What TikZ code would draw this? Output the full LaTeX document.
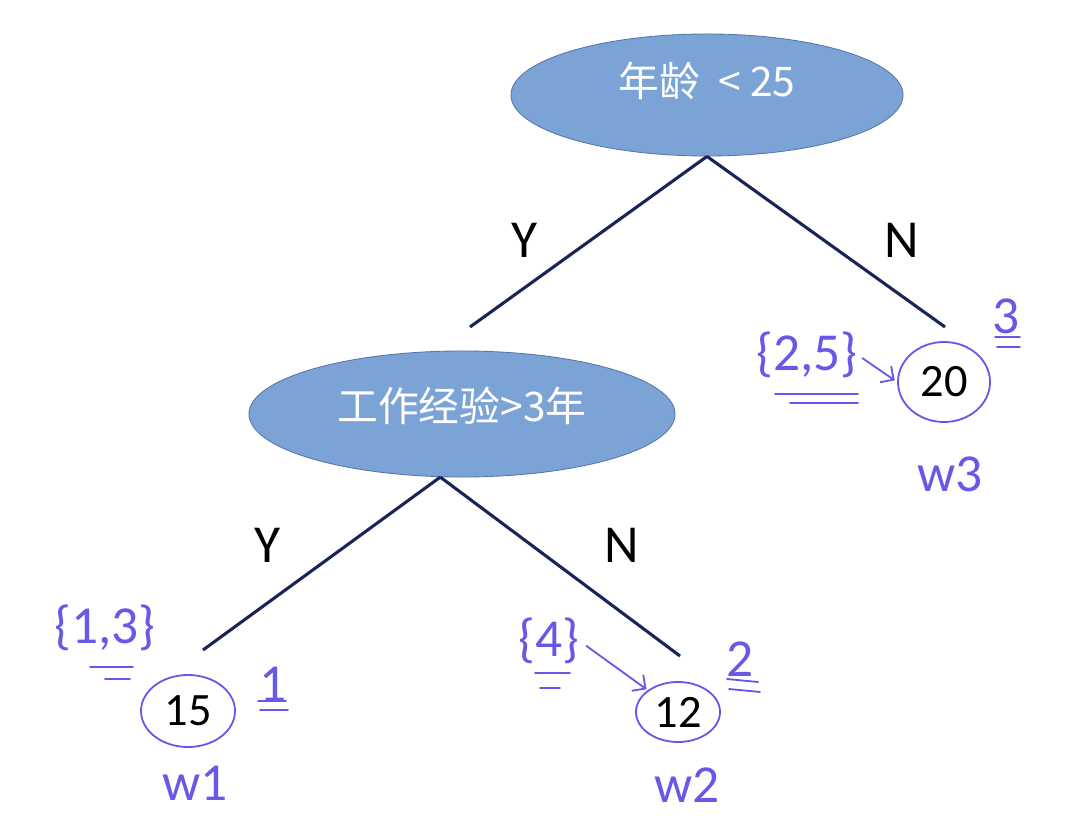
\documentclass[tikz,border=0pt]{standalone}
\usepackage{fontspec}
\setmainfont{Carlito}
\newfontfamily\cjk{Noto Sans CJK SC}
\usetikzlibrary{shapes.geometric,arrows.meta}
\definecolor{bubble}{RGB}{124,163,213}
\definecolor{bubbleline}{RGB}{84,118,168}
\definecolor{branchcol}{RGB}{27,36,89}
\definecolor{pen}{RGB}{104,88,232}
\tikzset{
  test/.style={ellipse, fill=bubble, draw=bubbleline, line width=0.6pt, text=white,
    inner sep=0pt, font=\cjk\fontsize{29}{30}\selectfont},
  edge/.style={draw=branchcol, line width=2.2pt},
  answer/.style={font=\fontsize{38}{40}\selectfont},
  leaf/.style={ellipse, draw=pen, line width=1.3pt, inner sep=0pt, font=\fontsize{33}{34}\selectfont},
  ink/.style={draw=pen, line width=1.3pt, line cap=round},
  note/.style={text=pen, inner sep=0pt, font=\fontsize{38}{40}\selectfont},
  count/.style={text=pen, inner sep=0pt, font=\fontsize{38}{40}\selectfont},
}
\begin{document}
\begin{tikzpicture}[x=0.025cm, y=-0.025cm]
        \useasboundingbox (0,0) rectangle (1080,819);
        % the two tests
        \node[test, minimum width=9.8cm, minimum height=3.05cm] (age) at (707,95)
          {\raisebox{-0.05cm}[0pt][0pt]{年龄\ \ < 25}};
        \node[test, minimum width=10.65cm, minimum height=3.15cm] (exp) at (462,414)
          {\raisebox{-0.2cm}[0pt][0pt]{工作经验>3年}};
        % the leaves
        \node[leaf, minimum width=2.3cm, minimum height=2cm]  (twenty)  at (944,382) {20};
        \node[leaf, minimum width=2.35cm, minimum height=1.8cm] (fifteen) at (188,711) {15};
        \node[leaf, minimum width=2.1cm, minimum height=1.5cm] (twelve)  at (678,712) {12};
        % free ends of the branches
        \coordinate (ageY) at (470,327);
        \coordinate (ageN) at (945,327);
        \coordinate (expY) at (203,650);
        \coordinate (expN) at (680,656);
        % drawing the branches
        \draw[edge] (age.south) -- (ageY);
        \draw[edge] (age.south) -- (ageN);
        \draw[edge] (exp.251)   -- (expY);
        \draw[edge] (exp.251)   -- (expN);
        % labels of the branches
        \node[answer] (ageyes) at (525,240) {Y};
        \node[answer] (ageno)  at (902,240) {N};
        \node[answer] (expyes) at (268,545) {Y};
        \node[answer] (expno)  at (622,545) {N};
        % pen notes
        \node[note] (set25) at (807,355) {\{2,5\}};
        \node[note] (set13) at (105,628) {\{1,3\}};
        \node[note] (set4)  at (549,641) {\{4\}};
        \node[count] (idx3)  at (1006,316) {3};
        \node[count] (idx1)  at (273,684) {1};
        \node[count] (idx2)  at (740,659) {2};
        \node[note] (wthree) at (950,474) {w3};
        \node[note] (wone)   at (195,783) {w1};
        \node[note] (wtwo)   at (687,785) {w2};
        \draw[ink, -{Straight Barb[length=7pt]}, shorten <=4pt, shorten >=2pt] (set25.east) -- (twenty.west);
        \draw[ink, -{Straight Barb[length=7pt]}, shorten <=6pt, shorten >=1pt] (set4.east) -- (twelve.north west);
        % underlines
        \draw[ink] (775,394) -- (858,394);
        \draw[ink] (790,403) -- (858,403);
        \draw[ink] (90,667) -- (133,667);
        \draw[ink] (105,679) -- (130,679);
        \draw[ink] (535,673) -- (570,673);
        \draw[ink] (540,688) -- (560,688);
        \draw[ink] (995,337) -- (1020,337);
        \draw[ink] (997,347) -- (1020,347);
        \draw[ink] (258,701) -- (286,701);
        \draw[ink] (260,710) -- (288,710);
        \draw[ink] (727,679) -- (758,682);
        \draw[ink] (729,689) -- (760,692);
\end{tikzpicture}
\end{document}
